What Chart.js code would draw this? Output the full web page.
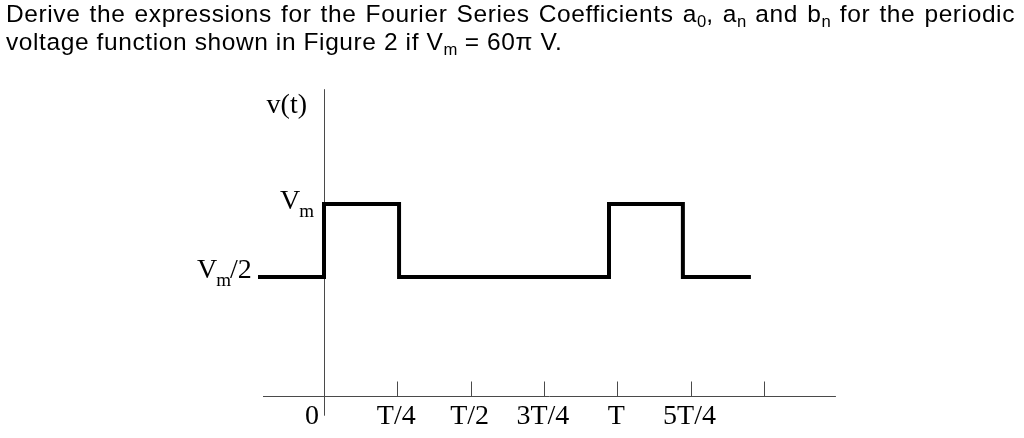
<!DOCTYPE html>
<html>
<head>
<meta charset="utf-8">
<script src="https://cdn.jsdelivr.net/npm/chart.js@4"></script>
<style>
  body { margin: 0; background: #fff; }
  #page { position: relative; width: 1024px; height: 438px; overflow: hidden; }
  .q { position: absolute; left: 6px; font-family: "Liberation Sans", Arial, sans-serif; font-size: 24.5px; letter-spacing: 0.6px; color: #000; line-height: 28px; white-space: nowrap; }
  #q1 { top: 0px; width: 1009px; text-align: justify; text-align-last: justify; white-space: normal; }
  #q2 { top: 28px; }
  .s { font-size: 0.68em; position: relative; top: 0.28em; letter-spacing: 0; }
  #chartBox { position: absolute; left: 0; top: 0; width: 1024px; height: 438px; }
</style>
</head>
<body>
<div id="page">
  <div id="chartBox"><canvas id="waveChart"></canvas></div>
  <div class="q" id="q1">Derive the expressions for the Fourier Series Coefficients a<span class="s">0</span>, a<span class="s">n</span> and b<span class="s">n</span> for the periodic</div>
  <div class="q" id="q2">voltage function shown in Figure 2 if V<span class="s">m</span> = 60π V.</div>
</div>
<script>
// time in units of T, level in units of Vm
const tickValues = [0, 0.25, 0.5, 0.75, 1, 1.25, 1.5];
const tickLabels = ['0', 'T/4', 'T/2', '3T/4', 'T', '5T/4', ''];
const waveTimes = [-0.225, 0, 0.256, 0.972, 1.224, 1.456];
const waveLevels = [0.5, 1, 0.5, 1, 0.5, 0.5];
const levelValues = [0.5, 1];
const levelSuffix = ['/2', ''];

const timeAxisLevel = -0.315;
const axisStart = -0.208;
const axisEnd = 1.746;
const serif = '"Liberation Serif", "Times New Roman", serif';
const labelSize = 28;

const drawVm = (ctx, left, baseline, suffix) => {
  ctx.textAlign = 'left';
  ctx.textBaseline = 'alphabetic';
  ctx.font = `${labelSize}px ${serif}`;
  ctx.fillText('V', left, baseline);
  let xPos = left + ctx.measureText('V').width - 1;
  ctx.font = `${Math.round(labelSize * 0.68)}px ${serif}`;
  ctx.fillText('m', xPos, baseline + 8);
  xPos += ctx.measureText('m').width - 1;
  if (suffix) {
    ctx.font = `${labelSize}px ${serif}`;
    ctx.fillText(suffix, xPos, baseline);
  }
};

const axesPlugin = {
  id: 'axes',
  beforeDatasetsDraw(chart) {
    const { ctx, chartArea, scales: { x, y } } = chart;
    const x0 = Math.round(x.getPixelForValue(0)) + 0.5;
    const yAxis = Math.round(y.getPixelForValue(timeAxisLevel)) + 0.5;
    ctx.save();
    ctx.strokeStyle = '#4a4a4a';
    ctx.lineWidth = 1;
    ctx.beginPath();
    ctx.moveTo(x0, chartArea.top + 2);
    ctx.lineTo(x0, chartArea.bottom);
    ctx.moveTo(x.getPixelForValue(axisStart), yAxis);
    ctx.lineTo(x.getPixelForValue(axisEnd), yAxis);
    tickValues.forEach(v => {
      if (v === 0) return;
      const px = Math.round(x.getPixelForValue(v)) + 0.5;
      ctx.moveTo(px, yAxis - 15);
      ctx.lineTo(px, yAxis);
    });
    ctx.stroke();

    // tick labels
    ctx.fillStyle = '#000';
    ctx.font = `${labelSize}px ${serif}`;
    ctx.textAlign = 'center';
    ctx.textBaseline = 'alphabetic';
    tickValues.forEach((v, i) => {
      const px = x.getPixelForValue(v) + (v === 0 ? -12 : -1);
      ctx.fillText(tickLabels[i], px, yAxis + 27.5);
    });

    // level labels
    const x0px = x.getPixelForValue(0);
    ctx.textAlign = 'right';
    ctx.fillText('v(t)', x0px - 17, y.getPixelForValue(1.62));
    drawVm(ctx, x0px - 44, y.getPixelForValue(levelValues[1]) + 4.5, levelSuffix[1]);
    drawVm(ctx, x0px - 127, y.getPixelForValue(levelValues[0]) + 1, levelSuffix[0]);
    ctx.restore();
  }
};

document.addEventListener('DOMContentLoaded', () => {
  const ctx = document.getElementById('waveChart').getContext('2d');
  new Chart(ctx, {
    type: 'line',
    data: {
      datasets: [{
        data: waveTimes.map((t, i) => ({ x: t, y: waveLevels[i] })),
        borderColor: '#000',
        borderWidth: 4,
        borderJoinStyle: 'miter',
        borderCapStyle: 'butt',
        stepped: 'before',
        pointRadius: 0,
        fill: false
      }]
    },
    options: {
      responsive: true,
      maintainAspectRatio: false,
      animation: false,
      events: [],
      layout: { padding: { left: 236.04, right: 172.24, top: 87.2, bottom: 22.3 } },
      scales: {
        x: { type: 'linear', min: -0.3, max: 1.8, display: false },
        y: { type: 'linear', min: -0.45, max: 1.8, display: false }
      },
      plugins: { legend: { display: false }, tooltip: { enabled: false } }
    },
    plugins: [axesPlugin]
  });
});
</script>
</body>
</html>
